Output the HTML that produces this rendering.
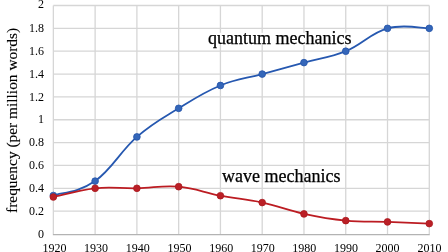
<!DOCTYPE html>
<html><head><meta charset="utf-8"><style>
html,body{margin:0;padding:0;background:#fff;width:448px;height:252px;overflow:hidden}
svg{display:block}
text{font-family:"Liberation Serif","Times New Roman",serif;fill:#000}
.b{stroke:#000;stroke-width:0.25px}
</style></head><body>
<svg width="448" height="252" viewBox="0 0 448 252">
<g stroke="#d6d6d6" stroke-width="1.3" fill="none"><line x1="53.35" y1="211.15" x2="429.28" y2="211.15"/><line x1="53.35" y1="188.30" x2="429.28" y2="188.30"/><line x1="53.35" y1="165.45" x2="429.28" y2="165.45"/><line x1="53.35" y1="142.60" x2="429.28" y2="142.60"/><line x1="53.35" y1="119.75" x2="429.28" y2="119.75"/><line x1="53.35" y1="96.90" x2="429.28" y2="96.90"/><line x1="53.35" y1="74.05" x2="429.28" y2="74.05"/><line x1="53.35" y1="51.20" x2="429.28" y2="51.20"/><line x1="53.35" y1="28.35" x2="429.28" y2="28.35"/><line x1="53.35" y1="5.50" x2="429.28" y2="5.50"/><line x1="53.35" y1="5.50" x2="53.35" y2="234.00"/><line x1="95.12" y1="5.50" x2="95.12" y2="234.00"/><line x1="136.89" y1="5.50" x2="136.89" y2="234.00"/><line x1="178.66" y1="5.50" x2="178.66" y2="234.00"/><line x1="220.43" y1="5.50" x2="220.43" y2="234.00"/><line x1="262.20" y1="5.50" x2="262.20" y2="234.00"/><line x1="303.97" y1="5.50" x2="303.97" y2="234.00"/><line x1="345.74" y1="5.50" x2="345.74" y2="234.00"/><line x1="387.51" y1="5.50" x2="387.51" y2="234.00"/><line x1="429.28" y1="5.50" x2="429.28" y2="234.00"/></g>
<line x1="52.85" y1="234.70" x2="429.78" y2="234.70" stroke="#b3b3b3" stroke-width="1.3"/>
<rect x="203" y="32.8" width="153" height="12.1" fill="#fff"/>
<g font-size="12"><text x="44.0" y="238.10" text-anchor="end">0</text><text x="44.0" y="215.05" text-anchor="end">0.2</text><text x="44.0" y="192.10" text-anchor="end">0.4</text><text x="44.0" y="169.15" text-anchor="end">0.6</text><text x="44.0" y="146.30" text-anchor="end">0.8</text><text x="44.0" y="123.35" text-anchor="end">1</text><text x="44.0" y="100.50" text-anchor="end">1.2</text><text x="44.0" y="77.55" text-anchor="end">1.4</text><text x="44.0" y="54.70" text-anchor="end">1.6</text><text x="44.0" y="31.75" text-anchor="end">1.8</text><text x="44.0" y="8.40" text-anchor="end">2</text><text x="54.45" y="251.5" text-anchor="middle">1920</text><text x="96.02" y="251.5" text-anchor="middle">1930</text><text x="137.69" y="251.5" text-anchor="middle">1940</text><text x="179.46" y="251.5" text-anchor="middle">1950</text><text x="221.13" y="251.5" text-anchor="middle">1960</text><text x="262.80" y="251.5" text-anchor="middle">1970</text><text x="304.37" y="251.5" text-anchor="middle">1980</text><text x="346.04" y="251.5" text-anchor="middle">1990</text><text x="387.61" y="251.5" text-anchor="middle">2000</text><text x="429.58" y="251.5" text-anchor="middle">2010</text></g>
<text class="b" style="stroke-width:0.12px" transform="translate(16.9 120.4) rotate(-90)" font-size="15.4" text-anchor="middle">frequency (per million words)</text>
<text class="b" x="208" y="44.4" font-size="18">quantum mechanics</text>
<text class="b" x="222" y="182.0" font-size="18">wave mechanics</text>
<path d="M53.35 195.50 C61.70 192.62 78.41 192.82 95.12 181.10 C111.83 169.38 120.18 151.44 136.89 136.89 C153.60 122.33 161.95 118.61 178.66 108.32 C195.37 98.04 203.72 92.33 220.43 85.47 C237.14 78.62 245.49 78.62 262.20 74.05 C278.91 69.48 287.26 67.20 303.97 62.62 C320.68 58.05 329.03 58.05 345.74 51.20 C362.45 44.34 370.80 32.92 387.51 28.35 C404.22 23.78 420.93 28.35 429.28 28.35" stroke="#2658b0" stroke-width="1.8" fill="none" stroke-linejoin="round"/>
<circle cx="53.35" cy="195.50" r="3.35" fill="#3466b9" stroke="#2353a8" stroke-width="0.8"/><circle cx="95.12" cy="181.10" r="3.35" fill="#3466b9" stroke="#2353a8" stroke-width="0.8"/><circle cx="136.89" cy="136.89" r="3.35" fill="#3466b9" stroke="#2353a8" stroke-width="0.8"/><circle cx="178.66" cy="108.32" r="3.35" fill="#3466b9" stroke="#2353a8" stroke-width="0.8"/><circle cx="220.43" cy="85.47" r="3.35" fill="#3466b9" stroke="#2353a8" stroke-width="0.8"/><circle cx="262.20" cy="74.05" r="3.35" fill="#3466b9" stroke="#2353a8" stroke-width="0.8"/><circle cx="303.97" cy="62.62" r="3.35" fill="#3466b9" stroke="#2353a8" stroke-width="0.8"/><circle cx="345.74" cy="51.20" r="3.35" fill="#3466b9" stroke="#2353a8" stroke-width="0.8"/><circle cx="387.51" cy="28.35" r="3.35" fill="#3466b9" stroke="#2353a8" stroke-width="0.8"/><circle cx="429.28" cy="28.35" r="3.35" fill="#3466b9" stroke="#2353a8" stroke-width="0.8"/>
<path d="M53.35 196.98 C61.70 195.25 78.41 190.04 95.12 188.30 C111.83 186.56 120.18 188.62 136.89 188.30 C153.60 187.98 161.95 185.22 178.66 186.70 C195.37 188.19 203.72 192.55 220.43 195.73 C237.14 198.90 245.49 198.95 262.20 202.58 C278.91 206.21 287.26 210.28 303.97 213.89 C320.68 217.50 329.03 219.03 345.74 220.63 C362.45 222.23 370.80 221.30 387.51 221.89 C404.22 222.48 420.93 223.26 429.28 223.60" stroke="#bc1c22" stroke-width="1.8" fill="none" stroke-linejoin="round"/>
<circle cx="53.35" cy="196.98" r="3.35" fill="#bb1f26" stroke="#aa1a20" stroke-width="0.8"/><circle cx="95.12" cy="188.30" r="3.35" fill="#bb1f26" stroke="#aa1a20" stroke-width="0.8"/><circle cx="136.89" cy="188.30" r="3.35" fill="#bb1f26" stroke="#aa1a20" stroke-width="0.8"/><circle cx="178.66" cy="186.70" r="3.35" fill="#bb1f26" stroke="#aa1a20" stroke-width="0.8"/><circle cx="220.43" cy="195.73" r="3.35" fill="#bb1f26" stroke="#aa1a20" stroke-width="0.8"/><circle cx="262.20" cy="202.58" r="3.35" fill="#bb1f26" stroke="#aa1a20" stroke-width="0.8"/><circle cx="303.97" cy="213.89" r="3.35" fill="#bb1f26" stroke="#aa1a20" stroke-width="0.8"/><circle cx="345.74" cy="220.63" r="3.35" fill="#bb1f26" stroke="#aa1a20" stroke-width="0.8"/><circle cx="387.51" cy="221.89" r="3.35" fill="#bb1f26" stroke="#aa1a20" stroke-width="0.8"/><circle cx="429.28" cy="223.60" r="3.35" fill="#bb1f26" stroke="#aa1a20" stroke-width="0.8"/>
</svg>
</body></html>
